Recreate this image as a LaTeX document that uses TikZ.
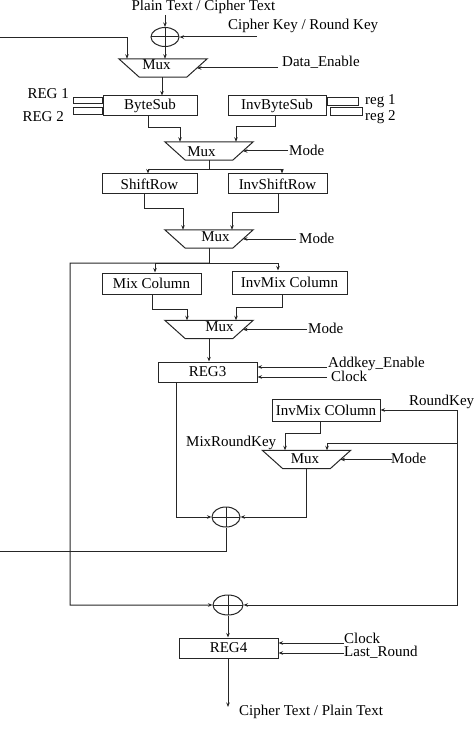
\documentclass[tikz,border=0pt]{standalone}
\usepackage{fontspec}
\setmainfont{Liberation Serif}
\usetikzlibrary{shapes.geometric,arrows.meta,calc}
\newcommand\muxdraw[1]{\draw[ln] (#1.north west) -- (#1.north east) -- ([xshift=-20.5pt]#1.south east) -- ([xshift=20.5pt]#1.south west) -- cycle;}
\begin{document}
\begin{tikzpicture}[x=1pt,y=-1pt,
  every node/.style={font=\fontsize{15}{18}\selectfont},
  ln/.style={draw=black!85, line width=1pt},
  arr/.style={ln, -{Stealth[length=4.5pt,width=3.5pt]}},
  blk/.style={draw=black!85, line width=1pt, inner sep=0pt, minimum height=20pt},
  muxshape/.style={rectangle, minimum width=88pt, minimum height=18pt, inner sep=0pt},
  xorshape/.style={ellipse, draw=black!85, line width=1pt, inner sep=0pt, minimum width=28pt, minimum height=19pt, path picture={\draw[black!85, line width=1pt] (path picture bounding box.north) -- (path picture bounding box.south) (path picture bounding box.west) -- (path picture bounding box.east);}},
  lbl/.style={inner sep=0pt, anchor=base west},
  lblc/.style={inner sep=0pt, anchor=base},
  lble/.style={inner sep=0pt, anchor=base east},
]
\useasboundingbox (0,0) rectangle (474,735);

% ---------- top ----------
\node[lblc] (ptct) at (203.5,11) {Plain Text / Cipher Text};
\coordinate (ptin) at (165,15);
\node[xorshape] (xor1) at (165,37) {};
\node[lbl] (ckt) at (228,30) {Cipher Key / Round Key};
\coordinate (ckin) at (257,37);
\coordinate (lin) at (0,38);
\node[muxshape] (mux1) at (163,68) {};
\muxdraw{mux1}
\node[lblc] (mt1) at (156.5,70) {Mux};
\node[lbl] (det) at (282,67) {Data\_Enable};
\coordinate (dein) at (278,68);

\draw[arr] (ptin) -- (xor1.north);
\draw[arr] (xor1.south) -- (xor1.south |- mux1.north);
\draw[arr] (ckin) -- (xor1.east);
\draw[arr] (lin) -| ([xshift=-36pt]mux1.north);
\draw[arr] (dein) -- ([xshift=-10.25pt]mux1.east);

% ---------- ByteSub ----------
\node[blk, minimum width=94pt] (bytesub) at (150,106) {ByteSub};
\node[blk, minimum width=98pt] (invbytesub) at (277,106) {InvByteSub};
\draw[arr] ([xshift=-1pt]mux1.south) -- ([xshift=-1pt]mux1.south |- bytesub.north);

\draw[ln] (73,98) rectangle (102,104);
\draw[ln] (73,108) rectangle (102,115);
\draw[ln] (327,98) rectangle (358,106);
\draw[ln] (330,108) rectangle (362,116);
\node[lble] (r1t) at (69,99) {REG 1};
\node[lble] (r2t) at (64,122) {REG 2};
\node[lbl] (r1r) at (365,105) {reg 1};
\node[lbl] (r2r) at (365,121) {reg 2};

\node[muxshape] (mux2) at (209,151) {};
\muxdraw{mux2}
\node[lblc] (mt2) at (201.5,156.5) {Mux};
\node[lbl] (mo2) at (289,156) {Mode};
\coordinate (mo2in) at (288,151);
\draw[arr] ([xshift=-2pt]bytesub.south) -- ++(0,11) -| ([xshift=-29pt]mux2.north);
\draw[arr] ([xshift=-2pt]invbytesub.south) -- ++(0,10) -| ([xshift=27pt]mux2.north);
\draw[arr] (mo2in) -- ([xshift=-10.25pt]mux2.east);

% ---------- ShiftRow ----------
\node[blk, minimum width=95pt] (shiftrow) at (149.5,184) {ShiftRow};
\node[blk, minimum width=99pt] (invshiftrow) at (277.5,184) {InvShiftRow};
\draw[ln] (mux2.south) -- ++(0,9) coordinate (s2);
\draw[arr] (s2) -| ([xshift=-1.5pt]shiftrow.north);
\draw[arr] (s2) -| ([xshift=4.5pt]invshiftrow.north);

\node[muxshape] (mux3) at (209,239) {};
\muxdraw{mux3}
\node[lblc] (mt3) at (215.5,241.5) {Mux};
\node[lbl] (mo3) at (299,243) {Mode};
\coordinate (mo3in) at (296,239);
\draw[arr] ([xshift=-5.5pt]shiftrow.south) -- ++(0,14) -| ([xshift=-26pt]mux3.north);
\draw[arr] ([xshift=0.5pt]invshiftrow.south) -- ++(0,18) -| ([xshift=23pt]mux3.north);
\draw[arr] (mo3in) -- ([xshift=-10.25pt]mux3.east);

% ---------- Mix Column ----------
\node[blk, minimum width=99pt, minimum height=21pt] (mixcol) at (151.5,283.5) {Mix Column};
\node[blk, minimum width=115pt, minimum height=23pt] (invmixcol) at (289.5,282.5) {InvMix Column};
\draw[ln] (mux3.south) -- ++(0,15) coordinate (s3);
\coordinate (lp) at (70,263);
\draw[arr] (s3) -| ([xshift=3.5pt]mixcol.north);
\draw[arr] (s3) -| ([xshift=-11.5pt]invmixcol.north);

\node[muxshape] (mux4) at (209,329.5) {};
\muxdraw{mux4}
\node[lblc] (mt4) at (219.5,331.5) {Mux};
\node[lbl] (mo4) at (308,333) {Mode};
\coordinate (mo4in) at (307,329.5);
\draw[arr] ([xshift=0.5pt]mixcol.south) -- ++(0,15) -| ([xshift=-22pt]mux4.north);
\draw[arr] ([xshift=-7.5pt]invmixcol.south) -- ++(0,13) -| ([xshift=27pt]mux4.north);
\draw[arr] (mo4in) -- ([xshift=-10.25pt]mux4.east);

% ---------- REG3 ----------
\node[blk, minimum width=99pt] (reg3) at (207.5,372) {REG3};
\draw[arr] (mux4.south) -- (mux4.south |- reg3.north);
\node[lbl] (aet) at (328,367) {Addkey\_Enable};
\node[lbl] (ck3) at (331,381) {Clock};
\coordinate (aein) at (327,367);
\coordinate (ck3in) at (327,377);
\draw[arr] (aein) -- ([yshift=5pt]reg3.east);
\draw[arr] (ck3in) -- ([yshift=-5pt]reg3.east);

% ---------- key path ----------
\node[blk, minimum width=108pt, minimum height=22pt] (invmix2) at (326,410) {InvMix COlumn};
\node[lbl] (rkt) at (409,405) {RoundKey};
\coordinate (rk) at (457,410);
\coordinate (rkb) at (457,443);
\node[lbl] (mrk) at (186,446) {MixRoundKey};
\node[muxshape] (mux5) at (306.5,459.5) {};
\muxdraw{mux5}
\node[lblc] (mt5) at (305,463) {Mux};
\node[lbl] (mo5) at (391,463) {Mode};
\coordinate (mo5in) at (392,459.5);
\draw[arr] (rk) -- (invmix2.east);
\draw[arr] (rkb) -| ([xshift=20.5pt]mux5.north);
\draw[arr] ([xshift=-6pt]invmix2.south) -- ++(0,12) -| ([xshift=-21.5pt]mux5.north);
\draw[arr] (mo5in) -- ([xshift=-10.25pt]mux5.east);

% ---------- second XOR ----------
\node[xorshape, minimum height=20pt] (xor2) at (226,517) {};
\draw[arr] ([xshift=-31.5pt]reg3.south) |- (xor2.west);
\draw[arr] (mux5.south) |- (xor2.east);
\coordinate (lout) at (0,551);
\draw[ln] (xor2.south) |- (lout);

% ---------- third XOR ----------
\node[xorshape, minimum width=30pt, minimum height=20pt] (xor3) at (228,605) {};
\draw[arr] (s3) -- (lp) |- (xor3.west);
\draw[arr] (rk) |- (xor3.east);

% ---------- REG4 ----------
\node[blk, minimum width=99pt] (reg4) at (228.5,648) {REG4};
\draw[arr] (xor3.south) -- (xor3.south |- reg4.north);
\node[lbl] (ck4) at (344,643) {Clock};
\node[lbl] (lrt) at (344,656) {Last\_Round};
\coordinate (ck4in) at (344,643);
\coordinate (lrin) at (344,653);
\draw[arr] (ck4in) -- ([yshift=5pt]reg4.east);
\draw[arr] (lrin) -- ([yshift=-5pt]reg4.east);
\coordinate (outp) at (228,707);
\draw[arr] (xor3.south |- reg4.south) -- (outp);
\node[lbl] (ctp) at (239,715) {Cipher Text / Plain Text};
\end{tikzpicture}
\end{document}
